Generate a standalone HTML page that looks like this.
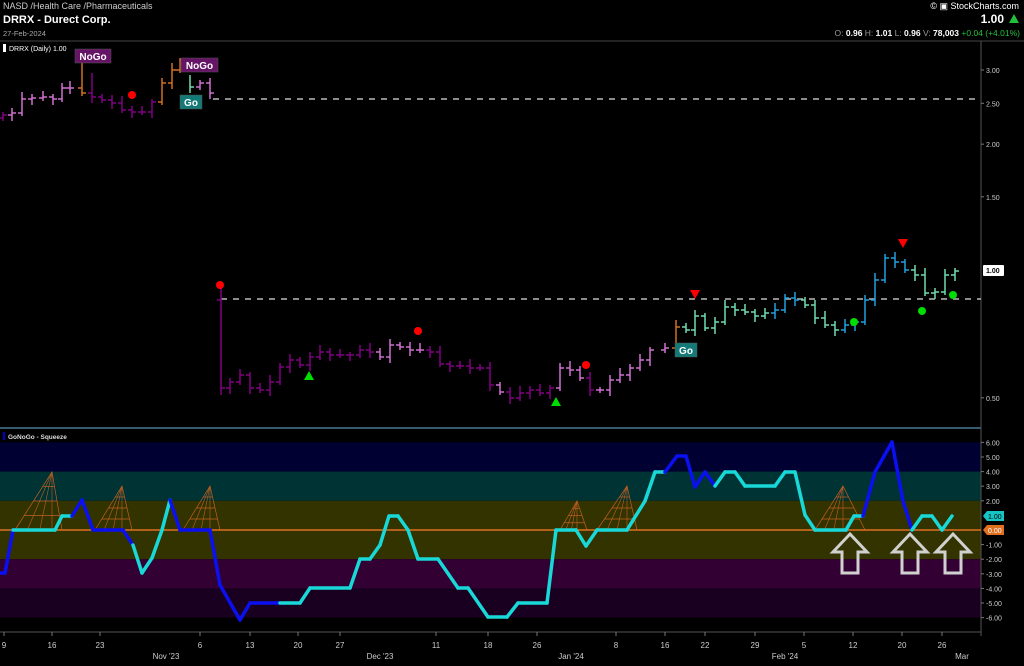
<!DOCTYPE html>
<html><head><meta charset="utf-8"><style>
html,body{margin:0;padding:0;background:#000;}
body{width:1024px;height:661px;overflow:hidden;font-family:"Liberation Sans",Arial,sans-serif;}
</style></head><body>
<svg id="s" width="1024" height="661" xmlns="http://www.w3.org/2000/svg" font-family="Liberation Sans, Arial, sans-serif">
<rect width="1024" height="661" fill="#000"/>
<text x="3" y="9" fill="#ccc" font-size="9">NASD  /Health Care  /Pharmaceuticals</text>
<text x="3" y="23" fill="#fff" font-size="11" font-weight="bold">DRRX - Durect Corp.</text>
<text x="3" y="36" fill="#aaa" font-size="7.5">27-Feb-2024</text>
<text x="1019" y="9" fill="#fff" font-size="9" text-anchor="end">© ▣ StockCharts.com</text>
<text x="1004" y="23" fill="#fff" font-size="12" font-weight="bold" text-anchor="end">1.00</text>
<polygon points="1009,23 1019,23 1014,14" fill="#22c03a"/>
<text x="1020" y="36" font-size="8.5" text-anchor="end"><tspan fill="#999">O: </tspan><tspan fill="#fff" font-weight="bold">0.96 </tspan><tspan fill="#999">  H: </tspan><tspan fill="#fff" font-weight="bold">1.01 </tspan><tspan fill="#999">  L: </tspan><tspan fill="#fff" font-weight="bold">0.96 </tspan><tspan fill="#999">  V: </tspan><tspan fill="#fff" font-weight="bold">78,003 </tspan><tspan fill="#22c03a"> +0.04 (+4.01%)</tspan></text>
<line x1="0" y1="41" x2="1024" y2="41" fill="none" stroke="#444" stroke-width="1"/>
<rect x="3" y="44" width="3" height="8" fill="#fff"/>
<text x="9" y="51" fill="#fff" font-size="7">DRRX (Daily) 1.00</text>
<g id="bands"></g>
<g id="price"></g>
<g id="osc"></g>
</svg>
<script>
const NS="http://www.w3.org/2000/svg";
function el(p,t,a,txt){const e=document.createElementNS(NS,t);for(const k in a)e.setAttribute(k,a[k]);if(txt!==undefined)e.textContent=txt;p.appendChild(e);return e;}
const B=document.getElementById('bands'),P=document.getElementById('price'),O=document.getElementById('osc');
const z=530,u=14.6;
const bands=[[6,4,'#000033'],[4,2,'#003333'],[2,-2,'#333300'],[-2,-4,'#330033'],[-4,-6,'#1a0020']];
bands.forEach(b=>el(B,'rect',{x:0,y:z-b[0]*u,width:981,height:(b[0]-b[1])*u,fill:b[2]}));
el(B,'line',{x1:0,y1:428,x2:981,y2:428,stroke:'#5a8fb0','stroke-width':1.2});
el(B,'line',{x1:981,y1:41,x2:981,y2:636,stroke:'#555','stroke-width':1});
el(B,'line',{x1:0,y1:632,x2:981,y2:632,stroke:'#555','stroke-width':1});
el(B,'rect',{x:3,y:432,width:2,height:8,fill:'#0000cc'});
el(B,'text',{x:8,y:439,fill:'#ddd','font-size':6.5,'font-weight':'bold'},'GoNoGo - Squeeze');
for(let v=6;v>=-6;v--){ if(v===0||v===1)continue; el(B,'text',{x:986,y:z-v*u+3,fill:'#ccc','font-size':7},v.toFixed(2));el(B,'line',{x1:981,y1:z-v*u,x2:984,y2:z-v*u,stroke:'#777'});}
el(B,'polygon',{points:'983,516 987,511 1004,511 1004,521 987,521',fill:'#16c4c4'});
el(B,'text',{x:988,y:519,fill:'#000','font-size':7},'1.00');
el(B,'polygon',{points:'983,530 987,525 1004,525 1004,535 987,535',fill:'#e07020'});
el(B,'text',{x:988,y:533,fill:'#fff','font-size':7},'0.00');
const py=p=>271-183*Math.log(p);
[[3,'3.00'],[2.5,'2.50'],[2,'2.00'],[1.5,'1.50'],[0.5,'0.50']].forEach(a=>{el(B,'text',{x:986,y:py(a[0])+3,fill:'#ccc','font-size':7},a[1]);el(B,'line',{x1:981,y1:py(a[0]),x2:984,y2:py(a[0]),stroke:'#777'});});
el(B,'rect',{x:983,y:265,width:21,height:11,fill:'#fff',rx:1});
el(B,'text',{x:986,y:273,fill:'#000','font-size':7,'font-weight':'bold'},'1.00');
[[4,'9'],[52,'16'],[100,'23'],[200,'6'],[250,'13'],[298,'20'],[340,'27'],[436,'11'],[488,'18'],[537,'26'],[616,'8'],[665,'16'],[705,'22'],[755,'29'],[804,'5'],[853,'12'],[902,'20'],[942,'26']].forEach(a=>{el(B,'text',{x:a[0],y:648,fill:'#ccc','font-size':8,'text-anchor':'middle'},a[1]);el(B,'line',{x1:a[0],y1:632,x2:a[0],y2:636,stroke:'#777'});});
[[166,"Nov '23"],[380,"Dec '23"],[571,"Jan '24"],[785,"Feb '24"],[962,'Mar']].forEach(a=>el(B,'text',{x:a[0],y:659,fill:'#ccc','font-size':8,'text-anchor':'middle'},a[1]));
el(P,'line',{x1:213,y1:99,x2:981,y2:99,stroke:'#bbb','stroke-width':1.5,'stroke-dasharray':'6,6'});
el(P,'line',{x1:221,y1:299,x2:981,y2:299,stroke:'#bbb','stroke-width':1.5,'stroke-dasharray':'6,6'});
const L='#d070d0',D='#800080',OR='#d07020',M='#70dcb0',BL='#20a0e0';
const bars=[[3,115,D],[12,113,L],[22,99,L],[32,98,L],[43,97,L],[53,99,L],[62,88,L],[70,88,L],[82,93,OR,58],[92,97,D,73],[102,100,D],[112,103,D],[122,110,D],[132,112,D],[142,112,D],[152,102,D],[162,83,OR],[172,70,OR],[180,60,OR,58],[190,87,M,75],[200,83,L],[210,93,L],
[221,388,D],[230,382,D],[240,375,D],[250,388,D],[260,390,D],[270,382,D],[280,367,D],[290,360,D],[300,365,D],[310,357,D],[320,352,D],[330,355,D],[340,355,D],[350,355,D],[360,350,D],[370,352,D],[380,357,L],[390,345,L],[400,347,L],[410,350,L],[420,350,L],[430,352,D],[440,364,D],[450,366,D],[460,366,D],[470,368,D],[480,368,D],[490,385,D],[500,392,L],[510,398,D],[520,393,D],[530,390,D],[540,393,D],[550,388,D],[560,368,L],[570,370,L],[580,378,L],[590,390,D],[600,390,L],[610,380,L],[620,375,L],[630,368,L],[640,360,L],[650,350,L],[665,348,L],[676,327,OR],[686,330,M],[695,316,M],[705,328,M],[715,322,M],[725,307,M],[735,310,M],[745,312,M],[755,316,M],[765,313,M],[775,310,BL],[785,298,BL],[795,300,BL],[805,305,M],[815,318,M],[825,325,M],[835,330,M],[845,325,BL],[855,322,BL],[865,300,BL],[875,280,BL],[885,258,BL],[895,262,BL],[905,270,BL],[915,275,M],[925,293,M],[935,292,M],[945,275,M],[955,271,M]];
let prev=null;
bars.forEach((b,i)=>{
  let o=prev!==null && Math.abs(prev-b[1])<60?prev:b[1]+3;
  if(b[0]===221){o=300;}
  let hi=Math.min(o,b[1])-3-(i*7%5), lo=Math.max(o,b[1])+3+(i*3%6);
  if(b[3])hi=b[3];
  if(b[0]===221){hi=283;lo=395;}
  el(P,'line',{x1:b[0],y1:hi,x2:b[0],y2:lo,stroke:b[2],'stroke-width':1.5});
  el(P,'line',{x1:b[0]-4,y1:o,x2:b[0],y2:o,stroke:b[2],'stroke-width':1.5});
  el(P,'line',{x1:b[0],y1:b[1],x2:b[0]+4,y2:b[1],stroke:b[2],'stroke-width':1.5});
  prev=b[1];
});
[[132,95],[220,285],[418,331],[586,365]].forEach(c=>el(P,'circle',{cx:c[0],cy:c[1],r:4,fill:'#f00'}));
[[854,322],[922,311],[953,295]].forEach(c=>el(P,'circle',{cx:c[0],cy:c[1],r:4,fill:'#0d0'}));
[[309,376],[556,402]].forEach(c=>el(P,'polygon',{points:`${c[0]-5},${c[1]+4} ${c[0]+5},${c[1]+4} ${c[0]},${c[1]-5}`,fill:'#0d0'}));
[[695,294],[903,243]].forEach(c=>el(P,'polygon',{points:`${c[0]-5},${c[1]-4} ${c[0]+5},${c[1]-4} ${c[0]},${c[1]+5}`,fill:'#f00'}));
function lab(x,y,w,t,bg){el(P,'rect',{x:x,y:y,width:w,height:14,fill:bg,stroke:'#555','stroke-width':0.5});el(P,'text',{x:x+w/2,y:y+11,fill:'#fff','font-size':10,'font-weight':'bold','text-anchor':'middle'},t);}
lab(75,49,36,'NoGo','#661466');lab(181,58,37,'NoGo','#661466');lab(180,95,22,'Go','#137a78');lab(675,343,22,'Go','#137a78');
function pyr(x0,x1,px,ph){const c='#c06020';for(let k=1;k<=4;k++){const yy=z-k*ph/4;const f=k/4;el(O,'line',{x1:x0+(px-x0)*f,y1:yy,x2:x1-(x1-px)*f,y2:yy,stroke:c,'stroke-width':0.7});}
 el(O,'polyline',{points:`${x0},${z} ${px},${z-ph} ${x1},${z}`,fill:'none',stroke:c,'stroke-width':0.7});
 for(let k=1;k<4;k++){el(O,'line',{x1:x0+(px-x0)*k/3,y1:z,x2:px,y2:z-ph,stroke:c,'stroke-width':0.6});}}
pyr(15,62,52,58);pyr(95,132,122,44);pyr(183,220,210,44);pyr(560,587,577,29);pyr(597,637,627,44);pyr(815,865,843,44);
el(O,'line',{x1:0,y1:z,x2:981,y2:z,stroke:'#e07020','stroke-width':1.5});
const C='#18d8d8',Bl='#0a10f0';
const pts=[[0,573,Bl],[5,573,Bl],[13,530,Bl],[55,530,C],[62,516,C],[72,516,C],[82,500,Bl],[93,530,Bl],[123,530,Bl],[133,545,Bl],[142,573,C],[152,558,C],[162,530,C],[170,500,C],[180,530,Bl],[210,530,Bl],[220,585,Bl],[240,620,Bl],[250,603,Bl],[280,603,Bl],[300,603,C],[310,588,C],[350,588,C],[360,559,C],[370,559,C],[380,545,C],[389,516,C],[398,516,C],[408,530,C],[418,559,C],[438,559,C],[458,588,C],[468,588,C],[488,617,C],[507,617,C],[518,603,C],[547,603,C],[556,530,C],[576,530,C],[586,546,C],[597,530,C],[627,530,C],[645,501,C],[655,472,C],[665,472,C],[677,456,Bl],[686,456,Bl],[695,487,Bl],[705,472,Bl],[715,486,Bl],[725,472,C],[735,472,C],[745,486,C],[775,486,C],[785,472,C],[795,472,C],[805,515,C],[815,530,C],[846,530,C],[854,516,C],[863,516,C],[875,472,Bl],[892,442,Bl],[903,501,Bl],[912,530,Bl],[922,516,C],[932,516,C],[942,530,C],[952,516,C]];
for(let i=1;i<pts.length;i++){el(O,'line',{x1:pts[i-1][0],y1:pts[i-1][1],x2:pts[i][0],y2:pts[i][1],stroke:pts[i][2],'stroke-width':3.5,'stroke-linecap':'round'});}
[850,910,953].forEach(cx=>{el(O,'polygon',{points:`${cx},534 ${cx+17},552 ${cx+8},552 ${cx+8},573 ${cx-8},573 ${cx-8},552 ${cx-17},552`,fill:'none',stroke:'#d0d0d0','stroke-width':3});});
</script>
</body></html>
